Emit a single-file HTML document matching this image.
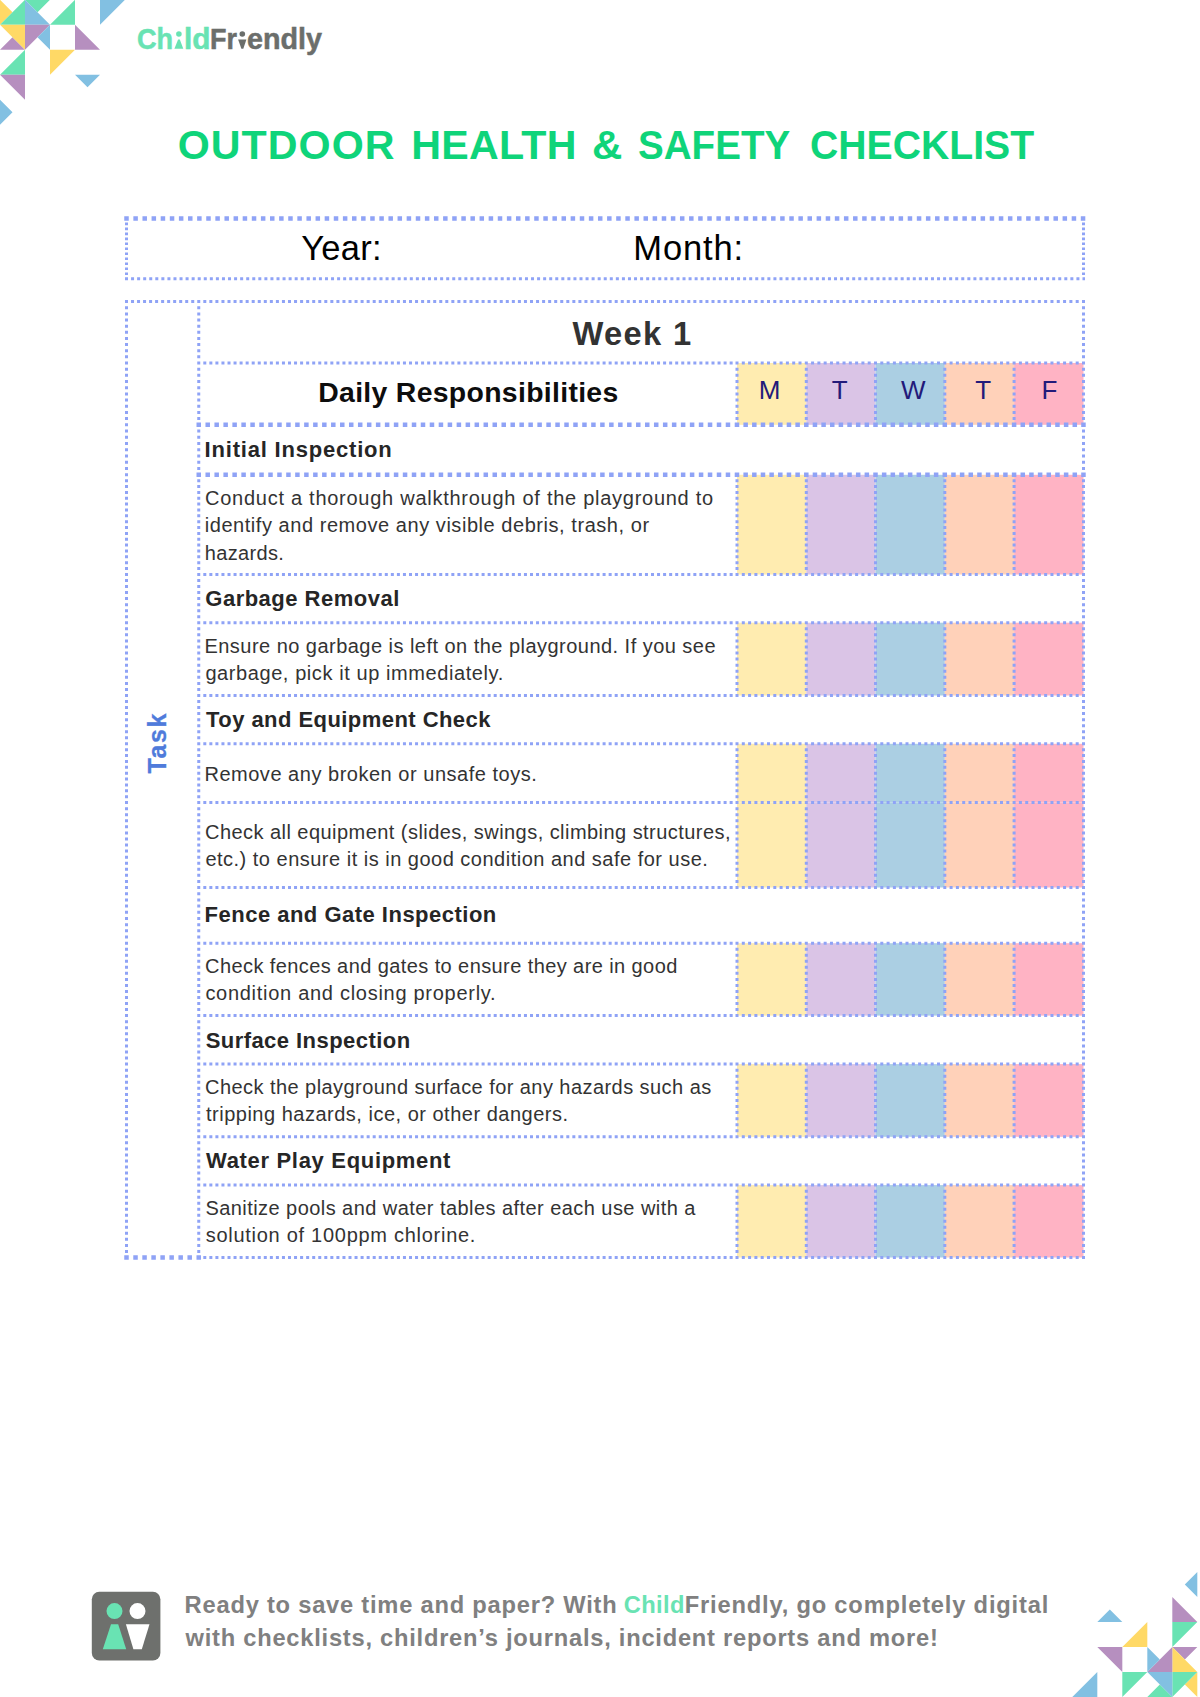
<!DOCTYPE html>
<html lang="en">
<head>
<meta charset="utf-8">
<title>Outdoor Health &amp; Safety Checklist</title>
<style>
html,body{margin:0;padding:0;background:#fff;}
body{width:1200px;height:1697px;position:relative;overflow:hidden;font-family:'Liberation Sans',sans-serif;}
svg.bg{position:absolute;left:0;top:0;width:1200px;height:1697px;}
.t{position:absolute;white-space:nowrap;margin:0;padding:0;}
h1,p{margin:0;padding:0;font-size:inherit;font-weight:inherit;}
.fig{color:transparent;}
.task{position:absolute;left:0;top:0;white-space:nowrap;font-weight:700;color:#4f7bdb;font-size:25px;line-height:30px;letter-spacing:1.55px;-webkit-text-stroke:0.3px currentColor;transform-origin:0 0;}
</style>
</head>
<body>
<svg class="bg" viewBox="0 0 1200 1697" width="1200" height="1697">
<g transform="translate(0,-0.25)"><polygon fill="#ffd966" points="0,0 12.5,12.5 0,25"/><polygon fill="#69e3b3" points="0,25 25,25 25,0"/><polygon fill="#69e3b3" points="25,0 50,0 37.5,12.5"/><polygon fill="#82c0e2" points="25,0 25,25 50,25"/><polygon fill="#69e3b3" points="50,25 75,25 75,0"/><polygon fill="#82c0e2" points="100,0 125,0 100,25"/><polygon fill="#b68fbf" points="0,50 25,50 12.5,37.5"/><polygon fill="#ffd966" points="0,25 25,25 25,50"/><polygon fill="#b68fbf" points="25,25 50,25 25,50"/><polygon fill="#82c0e2" points="50,25 50,50 37.5,37.5"/><polygon fill="#b68fbf" points="75,25 75,50 100,50"/><polygon fill="#69e3b3" points="0,75 25,75 25,50"/><polygon fill="#ffd966" points="50,50 75,50 50,75"/><polygon fill="#b68fbf" points="0,75 25,75 25,100"/><polygon fill="#82c0e2" points="75,75 100,75 87.5,87.5"/><polygon fill="#82c0e2" points="0,100 12.5,112.5 0,125"/></g>
<g transform="translate(1197.3,1697) rotate(180)"><polygon fill="#ffd966" points="0,0 12.5,12.5 0,25"/><polygon fill="#69e3b3" points="0,25 25,25 25,0"/><polygon fill="#69e3b3" points="25,0 50,0 37.5,12.5"/><polygon fill="#82c0e2" points="25,0 25,25 50,25"/><polygon fill="#69e3b3" points="50,25 75,25 75,0"/><polygon fill="#82c0e2" points="100,0 125,0 100,25"/><polygon fill="#b68fbf" points="0,50 25,50 12.5,37.5"/><polygon fill="#ffd966" points="0,25 25,25 25,50"/><polygon fill="#b68fbf" points="25,25 50,25 25,50"/><polygon fill="#82c0e2" points="50,25 50,50 37.5,37.5"/><polygon fill="#b68fbf" points="75,25 75,50 100,50"/><polygon fill="#69e3b3" points="0,75 25,75 25,50"/><polygon fill="#ffd966" points="50,50 75,50 50,75"/><polygon fill="#b68fbf" points="0,75 25,75 25,100"/><polygon fill="#82c0e2" points="75,75 100,75 87.5,87.5"/><polygon fill="#82c0e2" points="0,100 12.5,112.5 0,125"/></g>
<g><rect x="737" y="363" width="69.3" height="61.8" fill="#ffecb0"/><rect x="806.3" y="363" width="69.2" height="61.8" fill="#dac4e6"/><rect x="875.5" y="363" width="69.3" height="61.8" fill="#abcfe3"/><rect x="944.8" y="363" width="69.3" height="61.8" fill="#ffd1b9"/><rect x="1014.1" y="363" width="69.4" height="61.8" fill="#ffb3c4"/><rect x="737" y="474.8" width="69.3" height="99.7" fill="#ffecb0"/><rect x="806.3" y="474.8" width="69.2" height="99.7" fill="#dac4e6"/><rect x="875.5" y="474.8" width="69.3" height="99.7" fill="#abcfe3"/><rect x="944.8" y="474.8" width="69.3" height="99.7" fill="#ffd1b9"/><rect x="1014.1" y="474.8" width="69.4" height="99.7" fill="#ffb3c4"/><rect x="737" y="622.7" width="69.3" height="72.8" fill="#ffecb0"/><rect x="806.3" y="622.7" width="69.2" height="72.8" fill="#dac4e6"/><rect x="875.5" y="622.7" width="69.3" height="72.8" fill="#abcfe3"/><rect x="944.8" y="622.7" width="69.3" height="72.8" fill="#ffd1b9"/><rect x="1014.1" y="622.7" width="69.4" height="72.8" fill="#ffb3c4"/><rect x="737" y="743.8" width="69.3" height="58.8" fill="#ffecb0"/><rect x="806.3" y="743.8" width="69.2" height="58.8" fill="#dac4e6"/><rect x="875.5" y="743.8" width="69.3" height="58.8" fill="#abcfe3"/><rect x="944.8" y="743.8" width="69.3" height="58.8" fill="#ffd1b9"/><rect x="1014.1" y="743.8" width="69.4" height="58.8" fill="#ffb3c4"/><rect x="737" y="802.6" width="69.3" height="84.9" fill="#ffecb0"/><rect x="806.3" y="802.6" width="69.2" height="84.9" fill="#dac4e6"/><rect x="875.5" y="802.6" width="69.3" height="84.9" fill="#abcfe3"/><rect x="944.8" y="802.6" width="69.3" height="84.9" fill="#ffd1b9"/><rect x="1014.1" y="802.6" width="69.4" height="84.9" fill="#ffb3c4"/><rect x="737" y="943.2" width="69.3" height="72.4" fill="#ffecb0"/><rect x="806.3" y="943.2" width="69.2" height="72.4" fill="#dac4e6"/><rect x="875.5" y="943.2" width="69.3" height="72.4" fill="#abcfe3"/><rect x="944.8" y="943.2" width="69.3" height="72.4" fill="#ffd1b9"/><rect x="1014.1" y="943.2" width="69.4" height="72.4" fill="#ffb3c4"/><rect x="737" y="1064.1" width="69.3" height="72.7" fill="#ffecb0"/><rect x="806.3" y="1064.1" width="69.2" height="72.7" fill="#dac4e6"/><rect x="875.5" y="1064.1" width="69.3" height="72.7" fill="#abcfe3"/><rect x="944.8" y="1064.1" width="69.3" height="72.7" fill="#ffd1b9"/><rect x="1014.1" y="1064.1" width="69.4" height="72.7" fill="#ffb3c4"/><rect x="737" y="1185.1" width="69.3" height="72.4" fill="#ffecb0"/><rect x="806.3" y="1185.1" width="69.2" height="72.4" fill="#dac4e6"/><rect x="875.5" y="1185.1" width="69.3" height="72.4" fill="#abcfe3"/><rect x="944.8" y="1185.1" width="69.3" height="72.4" fill="#ffd1b9"/><rect x="1014.1" y="1185.1" width="69.4" height="72.4" fill="#ffb3c4"/></g>
<g stroke="#8fa3f6" fill="none"><line x1="124.25" y1="218.6" x2="1085.75" y2="218.6" stroke-width="4.5" stroke-dasharray="4.5 4.61"/><line x1="125" y1="278.8" x2="1085" y2="278.8" stroke-width="3" stroke-dasharray="3 3.06"/><line x1="126.5" y1="222.6" x2="126.5" y2="277.3" stroke-width="3" stroke-dasharray="2.6 2.38"/><line x1="1083.5" y1="222.6" x2="1083.5" y2="277.3" stroke-width="3" stroke-dasharray="2.6 2.38"/><line x1="125" y1="301.6" x2="197.25" y2="301.6" stroke-width="3" stroke-dasharray="3 3.02"/><line x1="197.25" y1="301.6" x2="735.5" y2="301.6" stroke-width="3" stroke-dasharray="3 3.05"/><line x1="735.5" y1="301.6" x2="804.8" y2="301.6" stroke-width="3" stroke-dasharray="3 3.3"/><line x1="804.8" y1="301.6" x2="874" y2="301.6" stroke-width="3" stroke-dasharray="3 3.29"/><line x1="874" y1="301.6" x2="943.3" y2="301.6" stroke-width="3" stroke-dasharray="3 3.3"/><line x1="943.3" y1="301.6" x2="1012.6" y2="301.6" stroke-width="3" stroke-dasharray="3 3.3"/><line x1="1012.6" y1="301.6" x2="1085" y2="301.6" stroke-width="3" stroke-dasharray="3 3.31"/><line x1="197.25" y1="363" x2="735.5" y2="363" stroke-width="3" stroke-dasharray="3 3.05"/><line x1="735.5" y1="363" x2="804.8" y2="363" stroke-width="3" stroke-dasharray="3 3.3"/><line x1="804.8" y1="363" x2="874" y2="363" stroke-width="3" stroke-dasharray="3 3.29"/><line x1="874" y1="363" x2="943.3" y2="363" stroke-width="3" stroke-dasharray="3 3.3"/><line x1="943.3" y1="363" x2="1012.6" y2="363" stroke-width="3" stroke-dasharray="3 3.3"/><line x1="1012.6" y1="363" x2="1085" y2="363" stroke-width="3" stroke-dasharray="3 3.31"/><line x1="196.5" y1="424.8" x2="734.75" y2="424.8" stroke-width="4.5" stroke-dasharray="4.5 4.47"/><line x1="734.75" y1="424.8" x2="804.05" y2="424.8" stroke-width="4.5" stroke-dasharray="4.5 4.16"/><line x1="804.05" y1="424.8" x2="873.25" y2="424.8" stroke-width="4.5" stroke-dasharray="4.5 4.15"/><line x1="873.25" y1="424.8" x2="942.55" y2="424.8" stroke-width="4.5" stroke-dasharray="4.5 4.16"/><line x1="942.55" y1="424.8" x2="1011.85" y2="424.8" stroke-width="4.5" stroke-dasharray="4.5 4.16"/><line x1="1011.85" y1="424.8" x2="1085.75" y2="424.8" stroke-width="4.5" stroke-dasharray="4.5 4.17"/><line x1="196.5" y1="474.8" x2="734.75" y2="474.8" stroke-width="4.5" stroke-dasharray="4.5 4.47"/><line x1="734.75" y1="474.8" x2="804.05" y2="474.8" stroke-width="4.5" stroke-dasharray="4.5 4.16"/><line x1="804.05" y1="474.8" x2="873.25" y2="474.8" stroke-width="4.5" stroke-dasharray="4.5 4.15"/><line x1="873.25" y1="474.8" x2="942.55" y2="474.8" stroke-width="4.5" stroke-dasharray="4.5 4.16"/><line x1="942.55" y1="474.8" x2="1011.85" y2="474.8" stroke-width="4.5" stroke-dasharray="4.5 4.16"/><line x1="1011.85" y1="474.8" x2="1085.75" y2="474.8" stroke-width="4.5" stroke-dasharray="4.5 4.17"/><line x1="197.25" y1="574.5" x2="735.5" y2="574.5" stroke-width="3" stroke-dasharray="3 3.05"/><line x1="735.5" y1="574.5" x2="804.8" y2="574.5" stroke-width="3" stroke-dasharray="3 3.3"/><line x1="804.8" y1="574.5" x2="874" y2="574.5" stroke-width="3" stroke-dasharray="3 3.29"/><line x1="874" y1="574.5" x2="943.3" y2="574.5" stroke-width="3" stroke-dasharray="3 3.3"/><line x1="943.3" y1="574.5" x2="1012.6" y2="574.5" stroke-width="3" stroke-dasharray="3 3.3"/><line x1="1012.6" y1="574.5" x2="1085" y2="574.5" stroke-width="3" stroke-dasharray="3 3.31"/><line x1="197.25" y1="622.7" x2="735.5" y2="622.7" stroke-width="3" stroke-dasharray="3 3.05"/><line x1="735.5" y1="622.7" x2="804.8" y2="622.7" stroke-width="3" stroke-dasharray="3 3.3"/><line x1="804.8" y1="622.7" x2="874" y2="622.7" stroke-width="3" stroke-dasharray="3 3.29"/><line x1="874" y1="622.7" x2="943.3" y2="622.7" stroke-width="3" stroke-dasharray="3 3.3"/><line x1="943.3" y1="622.7" x2="1012.6" y2="622.7" stroke-width="3" stroke-dasharray="3 3.3"/><line x1="1012.6" y1="622.7" x2="1085" y2="622.7" stroke-width="3" stroke-dasharray="3 3.31"/><line x1="197.25" y1="695.5" x2="735.5" y2="695.5" stroke-width="3" stroke-dasharray="3 3.05"/><line x1="735.5" y1="695.5" x2="804.8" y2="695.5" stroke-width="3" stroke-dasharray="3 3.3"/><line x1="804.8" y1="695.5" x2="874" y2="695.5" stroke-width="3" stroke-dasharray="3 3.29"/><line x1="874" y1="695.5" x2="943.3" y2="695.5" stroke-width="3" stroke-dasharray="3 3.3"/><line x1="943.3" y1="695.5" x2="1012.6" y2="695.5" stroke-width="3" stroke-dasharray="3 3.3"/><line x1="1012.6" y1="695.5" x2="1085" y2="695.5" stroke-width="3" stroke-dasharray="3 3.31"/><line x1="197.25" y1="743.8" x2="735.5" y2="743.8" stroke-width="3" stroke-dasharray="3 3.05"/><line x1="735.5" y1="743.8" x2="804.8" y2="743.8" stroke-width="3" stroke-dasharray="3 3.3"/><line x1="804.8" y1="743.8" x2="874" y2="743.8" stroke-width="3" stroke-dasharray="3 3.29"/><line x1="874" y1="743.8" x2="943.3" y2="743.8" stroke-width="3" stroke-dasharray="3 3.3"/><line x1="943.3" y1="743.8" x2="1012.6" y2="743.8" stroke-width="3" stroke-dasharray="3 3.3"/><line x1="1012.6" y1="743.8" x2="1085" y2="743.8" stroke-width="3" stroke-dasharray="3 3.31"/><line x1="197.25" y1="802.6" x2="735.5" y2="802.6" stroke-width="3" stroke-dasharray="3 3.05"/><line x1="735.5" y1="802.6" x2="804.8" y2="802.6" stroke-width="3" stroke-dasharray="3 3.3"/><line x1="804.8" y1="802.6" x2="874" y2="802.6" stroke-width="3" stroke-dasharray="3 3.29"/><line x1="874" y1="802.6" x2="943.3" y2="802.6" stroke-width="3" stroke-dasharray="3 3.3"/><line x1="943.3" y1="802.6" x2="1012.6" y2="802.6" stroke-width="3" stroke-dasharray="3 3.3"/><line x1="1012.6" y1="802.6" x2="1085" y2="802.6" stroke-width="3" stroke-dasharray="3 3.31"/><line x1="197.25" y1="887.5" x2="735.5" y2="887.5" stroke-width="3" stroke-dasharray="3 3.05"/><line x1="735.5" y1="887.5" x2="804.8" y2="887.5" stroke-width="3" stroke-dasharray="3 3.3"/><line x1="804.8" y1="887.5" x2="874" y2="887.5" stroke-width="3" stroke-dasharray="3 3.29"/><line x1="874" y1="887.5" x2="943.3" y2="887.5" stroke-width="3" stroke-dasharray="3 3.3"/><line x1="943.3" y1="887.5" x2="1012.6" y2="887.5" stroke-width="3" stroke-dasharray="3 3.3"/><line x1="1012.6" y1="887.5" x2="1085" y2="887.5" stroke-width="3" stroke-dasharray="3 3.31"/><line x1="197.25" y1="943.2" x2="735.5" y2="943.2" stroke-width="3" stroke-dasharray="3 3.05"/><line x1="735.5" y1="943.2" x2="804.8" y2="943.2" stroke-width="3" stroke-dasharray="3 3.3"/><line x1="804.8" y1="943.2" x2="874" y2="943.2" stroke-width="3" stroke-dasharray="3 3.29"/><line x1="874" y1="943.2" x2="943.3" y2="943.2" stroke-width="3" stroke-dasharray="3 3.3"/><line x1="943.3" y1="943.2" x2="1012.6" y2="943.2" stroke-width="3" stroke-dasharray="3 3.3"/><line x1="1012.6" y1="943.2" x2="1085" y2="943.2" stroke-width="3" stroke-dasharray="3 3.31"/><line x1="197.25" y1="1015.6" x2="735.5" y2="1015.6" stroke-width="3" stroke-dasharray="3 3.05"/><line x1="735.5" y1="1015.6" x2="804.8" y2="1015.6" stroke-width="3" stroke-dasharray="3 3.3"/><line x1="804.8" y1="1015.6" x2="874" y2="1015.6" stroke-width="3" stroke-dasharray="3 3.29"/><line x1="874" y1="1015.6" x2="943.3" y2="1015.6" stroke-width="3" stroke-dasharray="3 3.3"/><line x1="943.3" y1="1015.6" x2="1012.6" y2="1015.6" stroke-width="3" stroke-dasharray="3 3.3"/><line x1="1012.6" y1="1015.6" x2="1085" y2="1015.6" stroke-width="3" stroke-dasharray="3 3.31"/><line x1="197.25" y1="1064.1" x2="735.5" y2="1064.1" stroke-width="3" stroke-dasharray="3 3.05"/><line x1="735.5" y1="1064.1" x2="804.8" y2="1064.1" stroke-width="3" stroke-dasharray="3 3.3"/><line x1="804.8" y1="1064.1" x2="874" y2="1064.1" stroke-width="3" stroke-dasharray="3 3.29"/><line x1="874" y1="1064.1" x2="943.3" y2="1064.1" stroke-width="3" stroke-dasharray="3 3.3"/><line x1="943.3" y1="1064.1" x2="1012.6" y2="1064.1" stroke-width="3" stroke-dasharray="3 3.3"/><line x1="1012.6" y1="1064.1" x2="1085" y2="1064.1" stroke-width="3" stroke-dasharray="3 3.31"/><line x1="197.25" y1="1136.8" x2="735.5" y2="1136.8" stroke-width="3" stroke-dasharray="3 3.05"/><line x1="735.5" y1="1136.8" x2="804.8" y2="1136.8" stroke-width="3" stroke-dasharray="3 3.3"/><line x1="804.8" y1="1136.8" x2="874" y2="1136.8" stroke-width="3" stroke-dasharray="3 3.29"/><line x1="874" y1="1136.8" x2="943.3" y2="1136.8" stroke-width="3" stroke-dasharray="3 3.3"/><line x1="943.3" y1="1136.8" x2="1012.6" y2="1136.8" stroke-width="3" stroke-dasharray="3 3.3"/><line x1="1012.6" y1="1136.8" x2="1085" y2="1136.8" stroke-width="3" stroke-dasharray="3 3.31"/><line x1="197.25" y1="1185.1" x2="735.5" y2="1185.1" stroke-width="3" stroke-dasharray="3 3.05"/><line x1="735.5" y1="1185.1" x2="804.8" y2="1185.1" stroke-width="3" stroke-dasharray="3 3.3"/><line x1="804.8" y1="1185.1" x2="874" y2="1185.1" stroke-width="3" stroke-dasharray="3 3.29"/><line x1="874" y1="1185.1" x2="943.3" y2="1185.1" stroke-width="3" stroke-dasharray="3 3.3"/><line x1="943.3" y1="1185.1" x2="1012.6" y2="1185.1" stroke-width="3" stroke-dasharray="3 3.3"/><line x1="1012.6" y1="1185.1" x2="1085" y2="1185.1" stroke-width="3" stroke-dasharray="3 3.31"/><line x1="124.25" y1="1257.5" x2="201" y2="1257.5" stroke-width="4.5" stroke-dasharray="4.5 4.53"/><line x1="197.25" y1="1257.5" x2="735.5" y2="1257.5" stroke-width="3" stroke-dasharray="3 3.05"/><line x1="735.5" y1="1257.5" x2="804.8" y2="1257.5" stroke-width="3" stroke-dasharray="3 3.3"/><line x1="804.8" y1="1257.5" x2="874" y2="1257.5" stroke-width="3" stroke-dasharray="3 3.29"/><line x1="874" y1="1257.5" x2="943.3" y2="1257.5" stroke-width="3" stroke-dasharray="3 3.3"/><line x1="943.3" y1="1257.5" x2="1012.6" y2="1257.5" stroke-width="3" stroke-dasharray="3 3.3"/><line x1="1012.6" y1="1257.5" x2="1085" y2="1257.5" stroke-width="3" stroke-dasharray="3 3.31"/><line x1="126.5" y1="306.24" x2="126.5" y2="358.36" stroke-width="3" stroke-dasharray="3 3.14"/><line x1="198.75" y1="306.24" x2="198.75" y2="358.36" stroke-width="3" stroke-dasharray="3 3.14"/><line x1="1083.5" y1="306.24" x2="1083.5" y2="358.36" stroke-width="3" stroke-dasharray="3 3.14"/><line x1="126.5" y1="361.5" x2="126.5" y2="420.12" stroke-width="3" stroke-dasharray="3 3.18"/><line x1="198.75" y1="367.68" x2="198.75" y2="420.12" stroke-width="3" stroke-dasharray="3 3.18"/><line x1="1083.5" y1="367.68" x2="1083.5" y2="420.12" stroke-width="3" stroke-dasharray="3 3.18"/><line x1="737" y1="367.68" x2="737" y2="420.12" stroke-width="3" stroke-dasharray="3 3.18"/><line x1="806.3" y1="367.68" x2="806.3" y2="420.12" stroke-width="3" stroke-dasharray="3 3.18"/><line x1="875.5" y1="367.68" x2="875.5" y2="420.12" stroke-width="3" stroke-dasharray="3 3.18"/><line x1="944.8" y1="367.68" x2="944.8" y2="420.12" stroke-width="3" stroke-dasharray="3 3.18"/><line x1="1014.1" y1="367.68" x2="1014.1" y2="420.12" stroke-width="3" stroke-dasharray="3 3.18"/><line x1="126.5" y1="423.3" x2="126.5" y2="470.05" stroke-width="3" stroke-dasharray="3 3.25"/><line x1="198.75" y1="429.55" x2="198.75" y2="470.05" stroke-width="3" stroke-dasharray="3 3.25"/><line x1="1083.5" y1="429.55" x2="1083.5" y2="470.05" stroke-width="3" stroke-dasharray="3 3.25"/><line x1="126.5" y1="473.3" x2="126.5" y2="570.14" stroke-width="3" stroke-dasharray="3 2.86"/><line x1="198.75" y1="479.16" x2="198.75" y2="570.14" stroke-width="3" stroke-dasharray="3 2.86"/><line x1="1083.5" y1="479.16" x2="1083.5" y2="570.14" stroke-width="3" stroke-dasharray="3 2.86"/><line x1="737" y1="479.16" x2="737" y2="570.14" stroke-width="3" stroke-dasharray="3 2.86"/><line x1="806.3" y1="479.16" x2="806.3" y2="570.14" stroke-width="3" stroke-dasharray="3 2.86"/><line x1="875.5" y1="479.16" x2="875.5" y2="570.14" stroke-width="3" stroke-dasharray="3 2.86"/><line x1="944.8" y1="479.16" x2="944.8" y2="570.14" stroke-width="3" stroke-dasharray="3 2.86"/><line x1="1014.1" y1="479.16" x2="1014.1" y2="570.14" stroke-width="3" stroke-dasharray="3 2.86"/><line x1="126.5" y1="573" x2="126.5" y2="618.18" stroke-width="3" stroke-dasharray="3 3.03"/><line x1="198.75" y1="579.02" x2="198.75" y2="618.18" stroke-width="3" stroke-dasharray="3 3.03"/><line x1="1083.5" y1="579.02" x2="1083.5" y2="618.18" stroke-width="3" stroke-dasharray="3 3.03"/><line x1="126.5" y1="621.2" x2="126.5" y2="690.93" stroke-width="3" stroke-dasharray="3 3.07"/><line x1="198.75" y1="627.27" x2="198.75" y2="690.93" stroke-width="3" stroke-dasharray="3 3.07"/><line x1="1083.5" y1="627.27" x2="1083.5" y2="690.93" stroke-width="3" stroke-dasharray="3 3.07"/><line x1="737" y1="627.27" x2="737" y2="690.93" stroke-width="3" stroke-dasharray="3 3.07"/><line x1="806.3" y1="627.27" x2="806.3" y2="690.93" stroke-width="3" stroke-dasharray="3 3.07"/><line x1="875.5" y1="627.27" x2="875.5" y2="690.93" stroke-width="3" stroke-dasharray="3 3.07"/><line x1="944.8" y1="627.27" x2="944.8" y2="690.93" stroke-width="3" stroke-dasharray="3 3.07"/><line x1="1014.1" y1="627.27" x2="1014.1" y2="690.93" stroke-width="3" stroke-dasharray="3 3.07"/><line x1="126.5" y1="694" x2="126.5" y2="739.26" stroke-width="3" stroke-dasharray="3 3.04"/><line x1="198.75" y1="700.04" x2="198.75" y2="739.26" stroke-width="3" stroke-dasharray="3 3.04"/><line x1="1083.5" y1="700.04" x2="1083.5" y2="739.26" stroke-width="3" stroke-dasharray="3 3.04"/><line x1="126.5" y1="742.3" x2="126.5" y2="798.22" stroke-width="3" stroke-dasharray="3 2.88"/><line x1="198.75" y1="748.18" x2="198.75" y2="798.22" stroke-width="3" stroke-dasharray="3 2.88"/><line x1="1083.5" y1="748.18" x2="1083.5" y2="798.22" stroke-width="3" stroke-dasharray="3 2.88"/><line x1="737" y1="748.18" x2="737" y2="798.22" stroke-width="3" stroke-dasharray="3 2.88"/><line x1="806.3" y1="748.18" x2="806.3" y2="798.22" stroke-width="3" stroke-dasharray="3 2.88"/><line x1="875.5" y1="748.18" x2="875.5" y2="798.22" stroke-width="3" stroke-dasharray="3 2.88"/><line x1="944.8" y1="748.18" x2="944.8" y2="798.22" stroke-width="3" stroke-dasharray="3 2.88"/><line x1="1014.1" y1="748.18" x2="1014.1" y2="798.22" stroke-width="3" stroke-dasharray="3 2.88"/><line x1="126.5" y1="801.1" x2="126.5" y2="882.94" stroke-width="3" stroke-dasharray="3 3.06"/><line x1="198.75" y1="807.16" x2="198.75" y2="882.94" stroke-width="3" stroke-dasharray="3 3.06"/><line x1="1083.5" y1="807.16" x2="1083.5" y2="882.94" stroke-width="3" stroke-dasharray="3 3.06"/><line x1="737" y1="807.16" x2="737" y2="882.94" stroke-width="3" stroke-dasharray="3 3.06"/><line x1="806.3" y1="807.16" x2="806.3" y2="882.94" stroke-width="3" stroke-dasharray="3 3.06"/><line x1="875.5" y1="807.16" x2="875.5" y2="882.94" stroke-width="3" stroke-dasharray="3 3.06"/><line x1="944.8" y1="807.16" x2="944.8" y2="882.94" stroke-width="3" stroke-dasharray="3 3.06"/><line x1="1014.1" y1="807.16" x2="1014.1" y2="882.94" stroke-width="3" stroke-dasharray="3 3.06"/><line x1="126.5" y1="886" x2="126.5" y2="938.51" stroke-width="3" stroke-dasharray="3 3.19"/><line x1="198.75" y1="892.19" x2="198.75" y2="938.51" stroke-width="3" stroke-dasharray="3 3.19"/><line x1="1083.5" y1="892.19" x2="1083.5" y2="938.51" stroke-width="3" stroke-dasharray="3 3.19"/><line x1="126.5" y1="941.7" x2="126.5" y2="1011.07" stroke-width="3" stroke-dasharray="3 3.03"/><line x1="198.75" y1="947.73" x2="198.75" y2="1011.07" stroke-width="3" stroke-dasharray="3 3.03"/><line x1="1083.5" y1="947.73" x2="1083.5" y2="1011.07" stroke-width="3" stroke-dasharray="3 3.03"/><line x1="737" y1="947.73" x2="737" y2="1011.07" stroke-width="3" stroke-dasharray="3 3.03"/><line x1="806.3" y1="947.73" x2="806.3" y2="1011.07" stroke-width="3" stroke-dasharray="3 3.03"/><line x1="875.5" y1="947.73" x2="875.5" y2="1011.07" stroke-width="3" stroke-dasharray="3 3.03"/><line x1="944.8" y1="947.73" x2="944.8" y2="1011.07" stroke-width="3" stroke-dasharray="3 3.03"/><line x1="1014.1" y1="947.73" x2="1014.1" y2="1011.07" stroke-width="3" stroke-dasharray="3 3.03"/><line x1="126.5" y1="1014.1" x2="126.5" y2="1059.54" stroke-width="3" stroke-dasharray="3 3.06"/><line x1="198.75" y1="1020.16" x2="198.75" y2="1059.54" stroke-width="3" stroke-dasharray="3 3.06"/><line x1="1083.5" y1="1020.16" x2="1083.5" y2="1059.54" stroke-width="3" stroke-dasharray="3 3.06"/><line x1="126.5" y1="1062.6" x2="126.5" y2="1132.24" stroke-width="3" stroke-dasharray="3 3.06"/><line x1="198.75" y1="1068.66" x2="198.75" y2="1132.24" stroke-width="3" stroke-dasharray="3 3.06"/><line x1="1083.5" y1="1068.66" x2="1083.5" y2="1132.24" stroke-width="3" stroke-dasharray="3 3.06"/><line x1="737" y1="1068.66" x2="737" y2="1132.24" stroke-width="3" stroke-dasharray="3 3.06"/><line x1="806.3" y1="1068.66" x2="806.3" y2="1132.24" stroke-width="3" stroke-dasharray="3 3.06"/><line x1="875.5" y1="1068.66" x2="875.5" y2="1132.24" stroke-width="3" stroke-dasharray="3 3.06"/><line x1="944.8" y1="1068.66" x2="944.8" y2="1132.24" stroke-width="3" stroke-dasharray="3 3.06"/><line x1="1014.1" y1="1068.66" x2="1014.1" y2="1132.24" stroke-width="3" stroke-dasharray="3 3.06"/><line x1="126.5" y1="1135.3" x2="126.5" y2="1180.56" stroke-width="3" stroke-dasharray="3 3.04"/><line x1="198.75" y1="1141.34" x2="198.75" y2="1180.56" stroke-width="3" stroke-dasharray="3 3.04"/><line x1="1083.5" y1="1141.34" x2="1083.5" y2="1180.56" stroke-width="3" stroke-dasharray="3 3.04"/><line x1="126.5" y1="1183.6" x2="126.5" y2="1252.97" stroke-width="3" stroke-dasharray="3 3.03"/><line x1="198.75" y1="1189.63" x2="198.75" y2="1252.97" stroke-width="3" stroke-dasharray="3 3.03"/><line x1="1083.5" y1="1189.63" x2="1083.5" y2="1252.97" stroke-width="3" stroke-dasharray="3 3.03"/><line x1="737" y1="1189.63" x2="737" y2="1252.97" stroke-width="3" stroke-dasharray="3 3.03"/><line x1="806.3" y1="1189.63" x2="806.3" y2="1252.97" stroke-width="3" stroke-dasharray="3 3.03"/><line x1="875.5" y1="1189.63" x2="875.5" y2="1252.97" stroke-width="3" stroke-dasharray="3 3.03"/><line x1="944.8" y1="1189.63" x2="944.8" y2="1252.97" stroke-width="3" stroke-dasharray="3 3.03"/><line x1="1014.1" y1="1189.63" x2="1014.1" y2="1252.97" stroke-width="3" stroke-dasharray="3 3.03"/></g>
<!-- logo figures -->
<g fill="#69e3b3"><circle cx="178.9" cy="34" r="2.8"/><polygon points="178.1,39.5 179.8,39.5 183.3,48.8 174.4,48.8"/></g>
<g fill="#6b6e6b"><circle cx="242.3" cy="34" r="2.8"/><polygon points="238.1,39.5 246.4,39.5 243.3,48.7 241.4,48.7"/></g>
<!-- footer icon -->
<rect x="91.8" y="1591.7" width="68.6" height="68.7" rx="7.5" fill="#6e706d"/>
<circle cx="114.5" cy="1611.1" r="8" fill="#69e3b3"/>
<polygon points="111,1624.2 118.2,1624.2 126.2,1649.3 102.8,1649.3" fill="#69e3b3"/>
<circle cx="137.5" cy="1611.1" r="8" fill="#ffffff"/>
<polygon points="125.9,1624.2 149.5,1624.2 141.8,1649.3 133.4,1649.3" fill="#ffffff"/>
</svg>
<div class="logo"><span class="t" style="left:137.35px;top:21px;font-size:29.3px;line-height:35px;color:#69e3b3;font-weight:700;transform:scaleX(0.9258);transform-origin:0 0;-webkit-text-stroke:0.5px currentColor;">Ch</span><span class="t fig" style="left:174.5px;top:21px;font-size:29.3px;line-height:35px;font-weight:700;">i</span><span class="t" style="left:184.04px;top:21px;font-size:29.3px;line-height:35px;color:#69e3b3;font-weight:700;transform:scaleX(1.0164);transform-origin:0 0;-webkit-text-stroke:0.5px currentColor;">ld</span><span class="t" style="left:209.81px;top:21px;font-size:29.3px;line-height:35px;color:#6b6e6b;font-weight:700;transform:scaleX(0.9204);transform-origin:0 0;-webkit-text-stroke:0.5px currentColor;">Fr</span><span class="t fig" style="left:238.5px;top:21px;font-size:29.3px;line-height:35px;font-weight:700;">i</span><span class="t" style="left:247.40px;top:21px;font-size:29.3px;line-height:35px;color:#6b6e6b;font-weight:700;transform:scaleX(0.9803);transform-origin:0 0;-webkit-text-stroke:0.5px currentColor;">endly</span>
</div>
<h1 class="title"><span class="t" style="left:177.71px;top:121px;font-size:41.2px;line-height:49px;color:#0fd47a;font-weight:700;letter-spacing:1.043px;">OUTDOOR</span>
<span class="t" style="left:411.18px;top:121px;font-size:41.2px;line-height:49px;color:#0fd47a;font-weight:700;letter-spacing:0.255px;">HEALTH</span>
<span class="t" style="left:592.44px;top:121px;font-size:41.2px;line-height:49px;color:#0fd47a;font-weight:700;transform:scaleX(1.0205);transform-origin:0 0;">&amp;</span>
<span class="t" style="left:638.15px;top:121px;font-size:41.2px;line-height:49px;color:#0fd47a;font-weight:700;transform:scaleX(0.9369);transform-origin:0 0;">SAFETY</span>
<span class="t" style="left:810.03px;top:121px;font-size:41.2px;line-height:49px;color:#0fd47a;font-weight:700;transform:scaleX(0.9511);transform-origin:0 0;">CHECKLIST</span>
</h1>
<div class="period"><span class="t" style="left:301.26px;top:228px;font-size:34.5px;line-height:41px;color:#000000;letter-spacing:0.266px;">Year:</span>
<span class="t" style="left:633.30px;top:228px;font-size:34.5px;line-height:41px;color:#000000;letter-spacing:0.868px;">Month:</span>
</div>
<div class="t" style="left:572.50px;top:314px;font-size:32.7px;line-height:39px;color:#333333;font-weight:700;letter-spacing:1.322px;">Week 1</div>
<div class="t" style="left:318.23px;top:375px;font-size:28.4px;line-height:34px;color:#0d0d0d;font-weight:700;letter-spacing:0.313px;">Daily Responsibilities</div>
<div class="t" style="left:758.63px;top:375px;font-size:26px;line-height:31px;color:#231a7a;">M</div>
<div class="t" style="left:831.68px;top:375px;font-size:26px;line-height:31px;color:#231a7a;">T</div>
<div class="t" style="left:901.11px;top:375px;font-size:26px;line-height:31px;color:#231a7a;">W</div>
<div class="t" style="left:975.28px;top:375px;font-size:26px;line-height:31px;color:#231a7a;">T</div>
<div class="t" style="left:1041.57px;top:375px;font-size:26px;line-height:31px;color:#231a7a;">F</div>
<div class="t" style="left:204.62px;top:437px;font-size:22px;line-height:26px;color:#262626;font-weight:700;letter-spacing:0.801px;">Initial Inspection</div>
<div class="t" style="left:205.06px;top:486px;font-size:20px;line-height:24px;color:#333333;letter-spacing:0.734px;">Conduct a thorough walkthrough of the playground to</div>
<div class="t" style="left:204.75px;top:513px;font-size:20px;line-height:24px;color:#333333;letter-spacing:0.549px;">identify and remove any visible debris, trash, or</div>
<div class="t" style="left:204.75px;top:541px;font-size:20px;line-height:24px;color:#333333;letter-spacing:0.335px;">hazards.</div>
<div class="t" style="left:205.31px;top:586px;font-size:22px;line-height:26px;color:#262626;font-weight:700;letter-spacing:0.494px;">Garbage Removal</div>
<div class="t" style="left:204.44px;top:634px;font-size:20px;line-height:24px;color:#333333;letter-spacing:0.467px;">Ensure no garbage is left on the playground. If you see</div>
<div class="t" style="left:205.38px;top:661px;font-size:20px;line-height:24px;color:#333333;letter-spacing:0.583px;">garbage, pick it up immediately.</div>
<div class="t" style="left:206.00px;top:707px;font-size:22px;line-height:26px;color:#262626;font-weight:700;letter-spacing:0.447px;">Toy and Equipment Check</div>
<div class="t" style="left:204.44px;top:762px;font-size:20px;line-height:24px;color:#333333;letter-spacing:0.520px;">Remove any broken or unsafe toys.</div>
<div class="t" style="left:205.06px;top:820px;font-size:20px;line-height:24px;color:#333333;letter-spacing:0.451px;">Check all equipment (slides, swings, climbing structures,</div>
<div class="t" style="left:205.38px;top:847px;font-size:20px;line-height:24px;color:#333333;letter-spacing:0.495px;">etc.) to ensure it is in good condition and safe for use.</div>
<div class="t" style="left:204.62px;top:902px;font-size:22px;line-height:26px;color:#262626;font-weight:700;letter-spacing:0.487px;">Fence and Gate Inspection</div>
<div class="t" style="left:205.06px;top:954px;font-size:20px;line-height:24px;color:#333333;letter-spacing:0.411px;">Check fences and gates to ensure they are in good</div>
<div class="t" style="left:205.38px;top:981px;font-size:20px;line-height:24px;color:#333333;letter-spacing:0.718px;">condition and closing properly.</div>
<div class="t" style="left:205.66px;top:1028px;font-size:22px;line-height:26px;color:#262626;font-weight:700;letter-spacing:0.446px;">Surface Inspection</div>
<div class="t" style="left:205.06px;top:1075px;font-size:20px;line-height:24px;color:#333333;letter-spacing:0.442px;">Check the playground surface for any hazards such as</div>
<div class="t" style="left:206.00px;top:1102px;font-size:20px;line-height:24px;color:#333333;letter-spacing:0.502px;">tripping hazards, ice, or other dangers.</div>
<div class="t" style="left:206.00px;top:1148px;font-size:22px;line-height:26px;color:#262626;font-weight:700;letter-spacing:0.682px;">Water Play Equipment</div>
<div class="t" style="left:205.38px;top:1196px;font-size:20px;line-height:24px;color:#333333;letter-spacing:0.443px;">Sanitize pools and water tables after each use with a</div>
<div class="t" style="left:205.69px;top:1223px;font-size:20px;line-height:24px;color:#333333;letter-spacing:0.725px;">solution of 100ppm chlorine.</div>
<p class="foot1"><span class="t" style="left:184.62px;top:1591px;font-size:23.7px;line-height:28px;color:#808080;font-weight:700;letter-spacing:0.774px;">Ready to save time and paper? With</span>
<span class="t" style="left:623.76px;top:1591px;font-size:23.7px;line-height:28px;color:#69e3b3;font-weight:700;letter-spacing:0.380px;">Child</span><span class="t" style="left:684.77px;top:1591px;font-size:23.7px;line-height:28px;color:#808080;font-weight:700;letter-spacing:0.811px;">Friendly, go completely digital</span>
</p>
<p class="foot2"><span class="t" style="left:185.57px;top:1624px;font-size:23.7px;line-height:28px;color:#808080;font-weight:700;letter-spacing:0.756px;">with checklists, children’s journals, incident reports and more!</span>
</p>
<div class="task" style="transform:translate(141.7px,773.4px) rotate(-90deg);">Task</div>
</body>
</html>
